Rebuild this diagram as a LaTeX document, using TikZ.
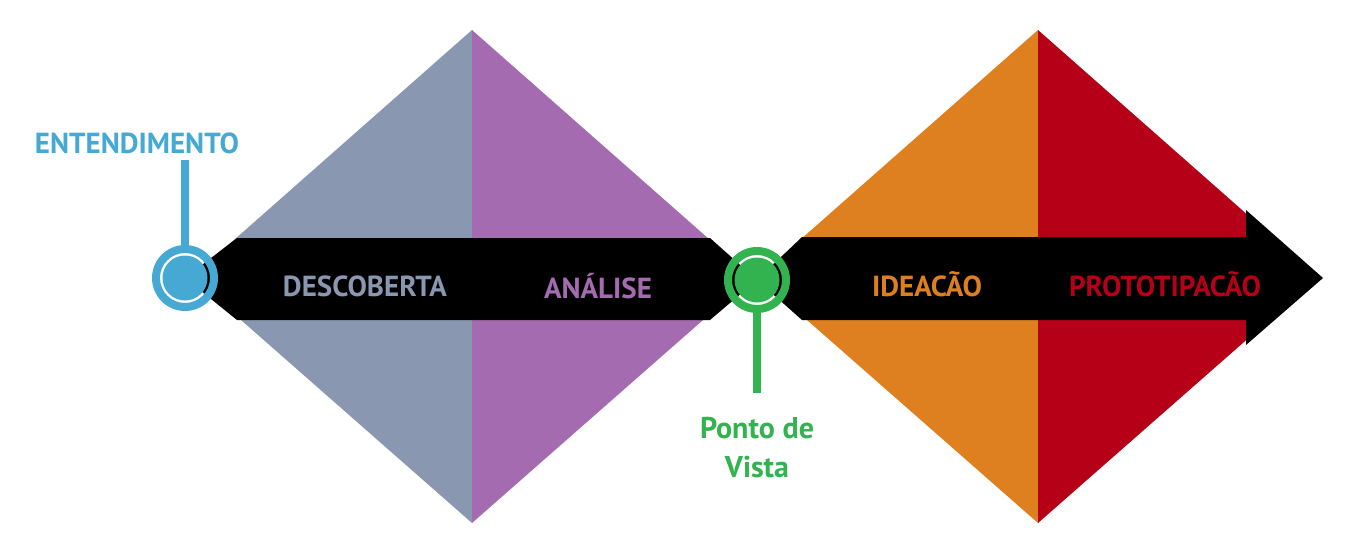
\documentclass[tikz,border=0pt]{standalone}
\usepackage{fontspec}
\setmainfont{PT Sans}
\definecolor{cblue}{HTML}{45A9D3}
\definecolor{cgrey}{HTML}{8A97B1}
\definecolor{cpurple}{HTML}{A56BB0}
\definecolor{corange}{HTML}{DE801F}
\definecolor{cred}{HTML}{B50018}
\definecolor{cgreen}{HTML}{32B34F}
\begin{document}
\begin{tikzpicture}[x=1pt,y=-1pt,
  lbl/.style={font=\bfseries\fontsize{29}{32}\selectfont,inner sep=0pt}]
\useasboundingbox (0,0) rectangle (1346,535);
% diamonds
\fill[cgrey] (472,30) -- (192,277) -- (472,523) -- cycle;
\fill[cpurple] (472,30) -- (752,277) -- (472,523) -- cycle;
\fill[corange] (1038,30) -- (758,277) -- (1038,523) -- cycle;
\fill[cred] (1038,30) -- (1318,277) -- (1038,523) -- cycle;
% band
\fill[black] (237,238) -- (710,238) -- (757,280) -- (802,237) -- (1246,237) -- (1246,210) -- (1323,278) -- (1246,345) -- (1246,320) -- (802,320) -- (757,280) -- (710,320) -- (237,320) -- (185,278) -- cycle;
% stems
\draw[cblue,line width=8] (185,160) -- (185,250);
\draw[cgreen,line width=8] (757,310) -- (757,393);
% circles
\fill[cblue,even odd rule] (185,278) circle[radius=33] (185,278) circle[radius=25];
\fill[cblue] (185,278) circle[radius=22.5];
\fill[cgreen,even odd rule] (757,280) circle[radius=33] (757,280) circle[radius=25];
\fill[cgreen] (757,280) circle[radius=22.5];
% labels
\node[lbl,text=cblue] (ent) at (137,143) {ENTENDIMENTO};
\node[lbl,text=cgrey] (des) at (365,286) {DESCOBERTA};
\node[lbl,text=cpurple] (ana) at (598,286) {ANÁLISE};
\node[lbl,text=corange] (ide) at (927,284) {IDEACÃO};
\node[lbl,text=cred] (pro) at (1165,284) {PROTOTIPACÃO};
\node[lbl,text=cgreen,align=center,font=\bfseries\fontsize{30}{39}\selectfont] (pv) at (757,448) {Ponto de\\Vista};
\end{tikzpicture}
\end{document}
